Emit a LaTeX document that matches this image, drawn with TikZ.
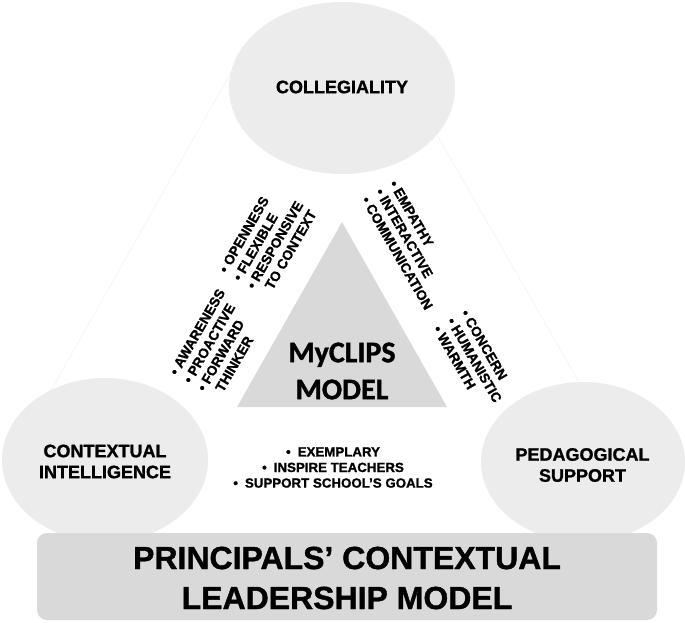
\documentclass[tikz,border=0pt]{standalone}
\usepackage{fontspec}
\setmainfont{Liberation Sans}[BoldFeatures={FakeBold=1.2}]
\newfontfamily\calib{Carlito}[BoldFeatures={FakeBold=1.2}]
\usetikzlibrary{shapes.geometric}
\definecolor{ellfill}{RGB}{236,236,236}
\definecolor{trifill}{RGB}{217,217,217}
\definecolor{boxfill}{RGB}{217,217,217}
\definecolor{faint}{RGB}{244,244,244}
\tikzset{
  bubble/.style={ellipse, fill=ellfill, inner sep=0pt},
  label18/.style={font=\fontsize{18}{21}\selectfont\bfseries, align=center, inner sep=0pt},
  small/.style={font=\fontsize{13.3}{15.6}\selectfont\bfseries, inner sep=0pt},
  rotlist/.style={font=\fontsize{13.8}{16}\selectfont\bfseries, inner sep=0pt, align=left},
}
\begin{document}
\begin{tikzpicture}[x=1pt,y=-1pt]
\useasboundingbox (0,0) rectangle (685,622);
% faint outer triangle lines
\coordinate (lt) at (234.5,66);
\coordinate (lb) at (40,410);
\coordinate (rt) at (417,100);
\coordinate (rb) at (595,410);
\draw[faint, line width=0.8pt] (lt) -- (lb);
\draw[faint, line width=0.8pt] (rt) -- (rb);
% ellipses
\node[bubble, minimum width=226pt, minimum height=172pt] (coll) at (342,88) {};
\node[bubble, minimum width=206pt, minimum height=164pt] (ci) at (105,460) {};
\node[bubble, minimum width=204pt, minimum height=160pt] (ps) at (583,462) {};
\node[label18] (colltext) at (342,87) {COLLEGIALITY};
\node[label18] (citext) at (105,461.5) {CONTEXTUAL\\INTELLIGENCE};
\node[label18] (pstext) at (582.5,465) {PEDAGOGICAL\\SUPPORT};
% bottom box
\node[rounded corners=10pt, fill=boxfill, minimum width=620pt, minimum height=87pt, inner sep=0pt] (pclm) at (347,576.5) {};
\node[align=center, inner sep=0pt, font=\fontsize{32}{40}\selectfont\bfseries] (pclmtext) at (347,578)
  {PRINCIPALS’ CONTEXTUAL\\LEADERSHIP MODEL};
% central triangle
\coordinate (ta) at (342,222);
\coordinate (tl) at (237,407);
\coordinate (tr) at (447,407);
\fill[trifill] (ta) -- (tl) -- (tr) -- cycle;
\node[font=\calib\fontsize{30}{37}\selectfont\bfseries, align=center, inner sep=0pt] (my) at (342,371)
  {MyCLIPS\\MODEL};
% rotated lists
\node[rotlist, rotate=60] (ga) at (268,241)
  {•\ OPENNESS\\•\ FLEXIBLE\\•\ RESPONSIVE\\\phantom{•\ }TO CONTEXT};
\node[rotlist, rotate=60] (gb) at (218,344)
  {•\ AWARENESS\\•\ PROACTIVE\\•\ FORWARD\\\phantom{•\ }THINKER};
\node[rotlist, rotate=-60] (gc) at (411,245)
  {•\ EMPATHY\\•\ INTERACTIVE\\•\ COMMUNICATION};
\node[rotlist, rotate=-60] (gd) at (474.5,360)
  {•\ CONCERN\\•\ HUMANISTIC\\•\ WARMTH};
% bottom list
\node[small, align=center] (ge) at (333,467.5)
  {•\hspace{7pt}EXEMPLARY\\•\hspace{7pt}INSPIRE TEACHERS\\•\hspace{7pt}SUPPORT SCHOOL’S GOALS};
\end{tikzpicture}
\end{document}
